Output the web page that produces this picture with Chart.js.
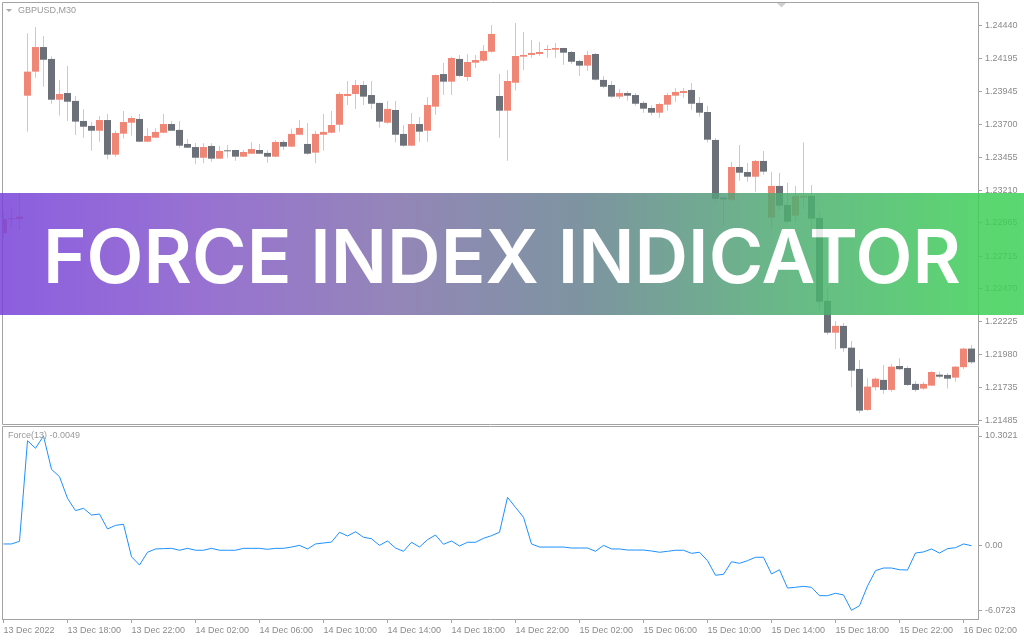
<!DOCTYPE html>
<html>
<head>
<meta charset="utf-8">
<script src="https://cdn.jsdelivr.net/npm/chart.js@4.4.0/dist/chart.umd.min.js"></script>
<style>
  html, body { margin: 0; padding: 0; background: #fff; }
  #wrap { position: relative; width: 1024px; height: 640px; overflow: hidden; }
  #priceCanvas { position: absolute; left: 0; top: 0; }
  #forceCanvas { position: absolute; left: 0; top: 426px; }
  .lbl { position: absolute; font: 9px "Liberation Sans", Arial, sans-serif; color: #999; white-space: nowrap; line-height: 11px; }
  #banner {
    position: absolute; left: 0; top: 193px; width: 1024px; height: 122px; opacity: 0.85;
    background: linear-gradient(90deg, rgb(120,67,219) 0%, rgb(134,89,202) 19.5%, rgb(129,113,172) 38.6%,
                rgb(102,131,143) 57.6%, rgb(79,173,115) 76.7%, rgb(63,207,89) 95.7%, rgb(62,209,87) 100%);
  }
  #bannerText {
    position: absolute; left: 43px; top: 26px; color: #fff; white-space: nowrap;
    font: 600 74px Inter, "Open Sans", sans-serif; line-height: 74px; transform-origin: 0 0;
  }
</style>
</head>
<body>
<div id="wrap">
  <canvas id="priceCanvas" width="1024" height="426"></canvas>
  <canvas id="forceCanvas" width="1024" height="214"></canvas>
  <div class="lbl" style="left:18px;top:5px;">GBPUSD,M30</div>
  <div class="lbl" style="left:8px;top:430px;">Force(13) -0.0049</div>
  <div id="banner"><span id="bannerText">FORCE INDEX INDICATOR</span></div>
</div>
<script>
// GBPUSD M30, 122 bars
const opens = [1.22887, 1.22992, 1.22994, 1.23916, 1.24096, 1.24280, 1.24191, 1.23886, 1.23936, 1.23877,
  1.23727, 1.23690, 1.23654, 1.23734, 1.23475, 1.23632, 1.23714, 1.23742, 1.23572, 1.23602,
  1.23639, 1.23704, 1.23660, 1.23555, 1.23532, 1.23452, 1.23540, 1.23445, 1.23503, 1.23510,
  1.23460, 1.23482, 1.23510, 1.23488, 1.23460, 1.23570, 1.23535, 1.23624, 1.23555, 1.23490,
  1.23624, 1.23639, 1.23699, 1.23914, 1.23929, 1.23996, 1.23921, 1.23862, 1.23714, 1.23809,
  1.23630, 1.23542, 1.23704, 1.23654, 1.23834, 1.24078, 1.24021, 1.24191, 1.24056, 1.24163,
  1.24178, 1.24245, 1.23914, 1.23804, 1.24013, 1.24208, 1.24221, 1.24228, 1.24258, 1.24260,
  1.24273, 1.24243, 1.24176, 1.24141, 1.24228, 1.24034, 1.23996, 1.23909, 1.23936, 1.23921,
  1.23862, 1.23824, 1.23789, 1.23849, 1.23916, 1.23936, 1.23959, 1.23862, 1.23794, 1.23585,
  1.23153, 1.23138, 1.23383, 1.23345, 1.23310, 1.23428, 1.23004, 1.23241, 1.23099, 1.23019,
  1.23153, 1.23166, 1.23001, 1.22381, 1.22143, 1.22194, 1.22031, 1.21872, 1.21565, 1.21735,
  1.21790, 1.21715, 1.21894, 1.21879, 1.21760, 1.21725, 1.21747, 1.21829, 1.21827, 1.21807,
  1.21885, 1.22024];
const highs = [1.23048, 1.23069, 1.23188, 1.24383, 1.24430, 1.24363, 1.24211, 1.24034, 1.24138, 1.23914,
  1.23814, 1.23722, 1.23764, 1.23779, 1.23654, 1.23802, 1.23764, 1.23779, 1.23672, 1.23672,
  1.23779, 1.23727, 1.23727, 1.23592, 1.23562, 1.23560, 1.23560, 1.23540, 1.23547, 1.23512,
  1.23510, 1.23570, 1.23555, 1.23510, 1.23585, 1.23585, 1.23669, 1.23734, 1.23712, 1.23652,
  1.23779, 1.23802, 1.23944, 1.24026, 1.24034, 1.24026, 1.24026, 1.23864, 1.23877, 1.23877,
  1.23697, 1.23787, 1.23757, 1.23906, 1.24074, 1.24161, 1.24206, 1.24221, 1.24228, 1.24221,
  1.24295, 1.24445, 1.24078, 1.24108, 1.24460, 1.24393, 1.24333, 1.24318, 1.24295, 1.24310,
  1.24275, 1.24251, 1.24183, 1.24251, 1.24236, 1.24064, 1.24026, 1.23966, 1.23951, 1.23936,
  1.23877, 1.23847, 1.23862, 1.23936, 1.23974, 1.23974, 1.24011, 1.23906, 1.23839, 1.23600,
  1.23161, 1.23420, 1.23547, 1.23413, 1.23435, 1.23503, 1.23348, 1.23338, 1.23265, 1.23241,
  1.23565, 1.23248, 1.23054, 1.22476, 1.22231, 1.22216, 1.22081, 1.21939, 1.21802, 1.21807,
  1.21902, 1.21909, 1.21952, 1.21894, 1.21782, 1.21775, 1.21855, 1.21852, 1.21842, 1.21894,
  1.22031, 1.22051];
const lows = [1.22850, 1.22927, 1.22912, 1.23647, 1.24051, 1.23983, 1.23856, 1.23767, 1.23727, 1.23622,
  1.23602, 1.23505, 1.23572, 1.23440, 1.23460, 1.23595, 1.23617, 1.23568, 1.23568, 1.23600,
  1.23636, 1.23652, 1.23527, 1.23524, 1.23403, 1.23411, 1.23422, 1.23442, 1.23452, 1.23430,
  1.23458, 1.23480, 1.23480, 1.23415, 1.23457, 1.23510, 1.23532, 1.23622, 1.23475, 1.23411,
  1.23505, 1.23636, 1.23647, 1.23847, 1.23817, 1.23847, 1.23817, 1.23677, 1.23707, 1.23565,
  1.23535, 1.23538, 1.23572, 1.23572, 1.23774, 1.23921, 1.23921, 1.24056, 1.24026, 1.24123,
  1.24170, 1.24238, 1.23602, 1.23430, 1.23954, 1.24108, 1.24200, 1.24215, 1.24200, 1.24198,
  1.24148, 1.24153, 1.24064, 1.24101, 1.24030, 1.23972, 1.23901, 1.23891, 1.23879, 1.23841,
  1.23789, 1.23767, 1.23752, 1.23804, 1.23871, 1.23899, 1.23811, 1.23759, 1.23565, 1.23114,
  1.22949, 1.23129, 1.23280, 1.23273, 1.23198, 1.23325, 1.22924, 1.23061, 1.22966, 1.22969,
  1.23069, 1.22924, 1.22315, 1.22126, 1.22019, 1.22001, 1.21735, 1.21541, 1.21560, 1.21710,
  1.21685, 1.21702, 1.21864, 1.21745, 1.21702, 1.21717, 1.21745, 1.21805, 1.21725, 1.21777,
  1.21872, 1.21909];
const closes = [1.22992, 1.22999, 1.23011, 1.24096, 1.24280, 1.24185, 1.23886, 1.23929, 1.23871, 1.23722,
  1.23684, 1.23654, 1.23734, 1.23475, 1.23637, 1.23719, 1.23749, 1.23572, 1.23615, 1.23645,
  1.23704, 1.23654, 1.23542, 1.23527, 1.23452, 1.23532, 1.23445, 1.23503, 1.23500, 1.23460,
  1.23495, 1.23517, 1.23482, 1.23460, 1.23570, 1.23535, 1.23630, 1.23675, 1.23482, 1.23630,
  1.23645, 1.23697, 1.23929, 1.23929, 1.23996, 1.23909, 1.23856, 1.23722, 1.23817, 1.23624,
  1.23542, 1.23704, 1.23647, 1.23847, 1.24071, 1.24021, 1.24198, 1.24064, 1.24168, 1.24183,
  1.24251, 1.24378, 1.23804, 1.24026, 1.24213, 1.24221, 1.24236, 1.24243, 1.24265, 1.24273,
  1.24238, 1.24170, 1.24141, 1.24221, 1.24036, 1.23983, 1.23909, 1.23936, 1.23916, 1.23856,
  1.23819, 1.23789, 1.23854, 1.23921, 1.23944, 1.23951, 1.23856, 1.23789, 1.23587, 1.23144,
  1.23141, 1.23383, 1.23340, 1.23310, 1.23428, 1.23348, 1.23241, 1.23093, 1.22974, 1.23166,
  1.23166, 1.22996, 1.22375, 1.22143, 1.22194, 1.22027, 1.21859, 1.21560, 1.21740, 1.21799,
  1.21715, 1.21889, 1.21870, 1.21752, 1.21715, 1.21760, 1.21849, 1.21814, 1.21799, 1.21889,
  1.22024, 1.21922];
const force = [0.16, 0.16, 0.41, 9.86, 9.15, 10.30, 7.17, 6.48, 4.45, 3.29,
  3.51, 2.88, 2.97, 1.57, 1.91, 2.01, -1.04, -1.82, -0.62, -0.31,
  -0.28, -0.25, -0.43, -0.25, -0.43, -0.43, -0.25, -0.43, -0.43, -0.43,
  -0.25, -0.25, -0.25, -0.34, -0.25, -0.25, -0.13, 0.03, -0.31, 0.16,
  0.25, 0.34, 1.26, 0.91, 1.31, 0.79, 0.65, 0.03, 0.44, -0.22,
  -0.53, 0.32, -0.13, 0.56, 1.00, 0.13, 0.44, -0.03, 0.32, 0.32,
  0.69, 0.94, 1.26, 4.54, 3.60, 2.67, 0.16, -0.13, -0.13, -0.13,
  -0.13, -0.22, -0.22, -0.22, -0.53, 0.03, -0.31, -0.31, -0.41, -0.41,
  -0.41, -0.50, -0.62, -0.53, -0.43, -0.43, -0.72, -0.62, -1.41, -2.78,
  -2.69, -1.51, -1.66, -1.41, -1.09, -1.09, -2.66, -2.26, -3.98, -3.91,
  -3.82, -3.91, -4.70, -4.70, -4.47, -4.63, -6.07, -5.64, -3.79, -2.35,
  -2.10, -2.10, -2.26, -2.29, -0.69, -0.59, -0.31, -0.69, -0.28, -0.19,
  0.16, -0.0049];
const priceTicks = [1.24440, 1.24195, 1.23945, 1.23700, 1.23455, 1.23210, 1.22965,
  1.22715, 1.22470, 1.22225, 1.21980, 1.21735, 1.21485];
const forceTicks = [10.3021, 0, -6.0723];
const forceTickLabels = ['10.3021', '0.00', '-6.0723'];
const dateLabels = ['13 Dec 2022', '13 Dec 18:00', '13 Dec 22:00', '14 Dec 02:00', '14 Dec 06:00',
  '14 Dec 10:00', '14 Dec 14:00', '14 Dec 18:00', '14 Dec 22:00', '15 Dec 02:00', '15 Dec 06:00',
  '15 Dec 10:00', '15 Dec 14:00', '15 Dec 18:00', '15 Dec 22:00', '16 Dec 02:00'];
const barsPerLabel = 8;

const BULL = '#ef8676';
const BEAR = '#6b7079';
const WICK = '#c8cad6';
const FRAME = '#a3a3a3';
const TEXT = '#8a8a8a';
const FONT = { family: '"Liberation Sans", Arial, sans-serif', size: 9 };

// plot area 2..978, first bar centre at 3.5, 8px per bar
const X_MIN = -(3.5 - 2) / 8;
const X_MAX = (978 - 3.5) / 8;

const idx = closes.map((_, i) => i);

const framePlugin = {
  id: 'frame',
  afterDraw(chart, args, opts) {
    const { ctx, chartArea: a } = chart;
    ctx.save();
    ctx.strokeStyle = FRAME;
    ctx.lineWidth = 1;
    ctx.beginPath();
    const top = opts.top != null ? opts.top : a.top + 0.5;
    ctx.moveTo(a.left + 0.5, a.bottom + 0.5);
    ctx.lineTo(a.left + 0.5, top);
    ctx.lineTo(a.right + 0.5, top);
    if (opts.bottom) {
      ctx.moveTo(a.left + 0.5, a.bottom + 0.5);
      ctx.lineTo(a.right + 0.5, a.bottom + 0.5);
    }
    ctx.stroke();
    if (opts.markers) {
      ctx.fillStyle = '#a8a8a8';
      ctx.beginPath();
      ctx.moveTo(6, 9); ctx.lineTo(12, 9); ctx.lineTo(9, 12); ctx.closePath();
      ctx.fill();
      ctx.fillStyle = '#d0d0d4';
      ctx.beginPath();
      ctx.moveTo(777, 3); ctx.lineTo(786, 3); ctx.lineTo(781.5, 7.5); ctx.closePath();
      ctx.fill();
    }
    ctx.restore();
  }
};

new Chart(document.getElementById('priceCanvas'), {
  type: 'bar',
  data: {
    datasets: [
      {
        label: 'body',
        data: idx.map(i => ({ x: i, y: [opens[i], closes[i]] })),
        backgroundColor: idx.map(i => closes[i] > opens[i] ? BULL : BEAR),
        barThickness: 7,
        minBarLength: 1,
        borderWidth: 0,
        inflateAmount: 0,
        grouped: false,
        order: 0
      },
      {
        label: 'wick',
        data: idx.map(i => ({ x: i, y: [lows[i], highs[i]] })),
        backgroundColor: WICK,
        barThickness: 1,
        borderWidth: 0,
        inflateAmount: 0,
        grouped: false,
        order: 1
      }
    ]
  },
  options: {
    animation: false,
    responsive: false,
    layout: { padding: { left: 2, top: 2, right: 0, bottom: 2 } },
    plugins: {
      legend: { display: false },
      tooltip: { enabled: false },
      frame: { bottom: true, markers: true }
    },
    scales: {
      x: { type: 'linear', min: X_MIN, max: X_MAX, display: false, offset: false },
      y: {
        position: 'right',
        min: 1.21460,
        max: 1.24617,
        afterFit(s) { s.width = 46; s.paddingTop = 0; s.paddingBottom = 0; },
        afterBuildTicks(s) { s.ticks = priceTicks.map(v => ({ value: v })); },
        ticks: { callback: v => v.toFixed(5), font: FONT, color: TEXT, padding: 3 },
        grid: { drawOnChartArea: false, tickLength: 4, color: FRAME },
        border: { display: true, color: FRAME }
      }
    }
  },
  plugins: [framePlugin]
});

new Chart(document.getElementById('forceCanvas'), {
  type: 'line',
  data: {
    datasets: [{
      label: 'Force(13)',
      data: idx.map(i => ({ x: i, y: force[i] })),
      borderColor: '#1e90ff',
      borderWidth: 1,
      pointRadius: 0,
      tension: 0,
      fill: false
    }]
  },
  options: {
    animation: false,
    responsive: false,
    layout: { padding: { left: 2, top: 1, right: 0, bottom: 0 } },
    plugins: {
      legend: { display: false },
      tooltip: { enabled: false },
      frame: { top: 0.5 }
    },
    scales: {
      x: {
        type: 'linear', min: X_MIN, max: X_MAX, offset: false,
        afterBuildTicks(s) { s.ticks = dateLabels.map((_, k) => ({ value: k * barsPerLabel })); },
        afterFit(s) { s.height = 21; s.paddingLeft = 0; s.paddingRight = 0; },
        ticks: {
          callback: v => dateLabels[Math.round(v / barsPerLabel)],
          align: 'start', maxRotation: 0, autoSkip: false, font: FONT, color: TEXT, padding: 2
        },
        grid: { drawOnChartArea: false, tickLength: 4, color: FRAME },
        border: { display: true, color: FRAME }
      },
      y: {
        position: 'right',
        min: -6.8889,
        max: 11.1476,
        afterFit(s) { s.width = 46; s.paddingTop = 0; s.paddingBottom = 0; },
        afterBuildTicks(s) { s.ticks = forceTicks.map(v => ({ value: v })); },
        ticks: { callback: (v, k) => forceTickLabels[k], font: FONT, color: TEXT, padding: 3 },
        grid: { drawOnChartArea: false, tickLength: 4, color: FRAME },
        border: { display: true, color: FRAME }
      }
    }
  },
  plugins: [framePlugin]
});

// stretch the banner title to the width it takes in the picture
const t = document.getElementById('bannerText');
const w = t.getBoundingClientRect().width;
t.style.transform = 'scaleX(' + (918 / w) + ')';
</script>
</body>
</html>
